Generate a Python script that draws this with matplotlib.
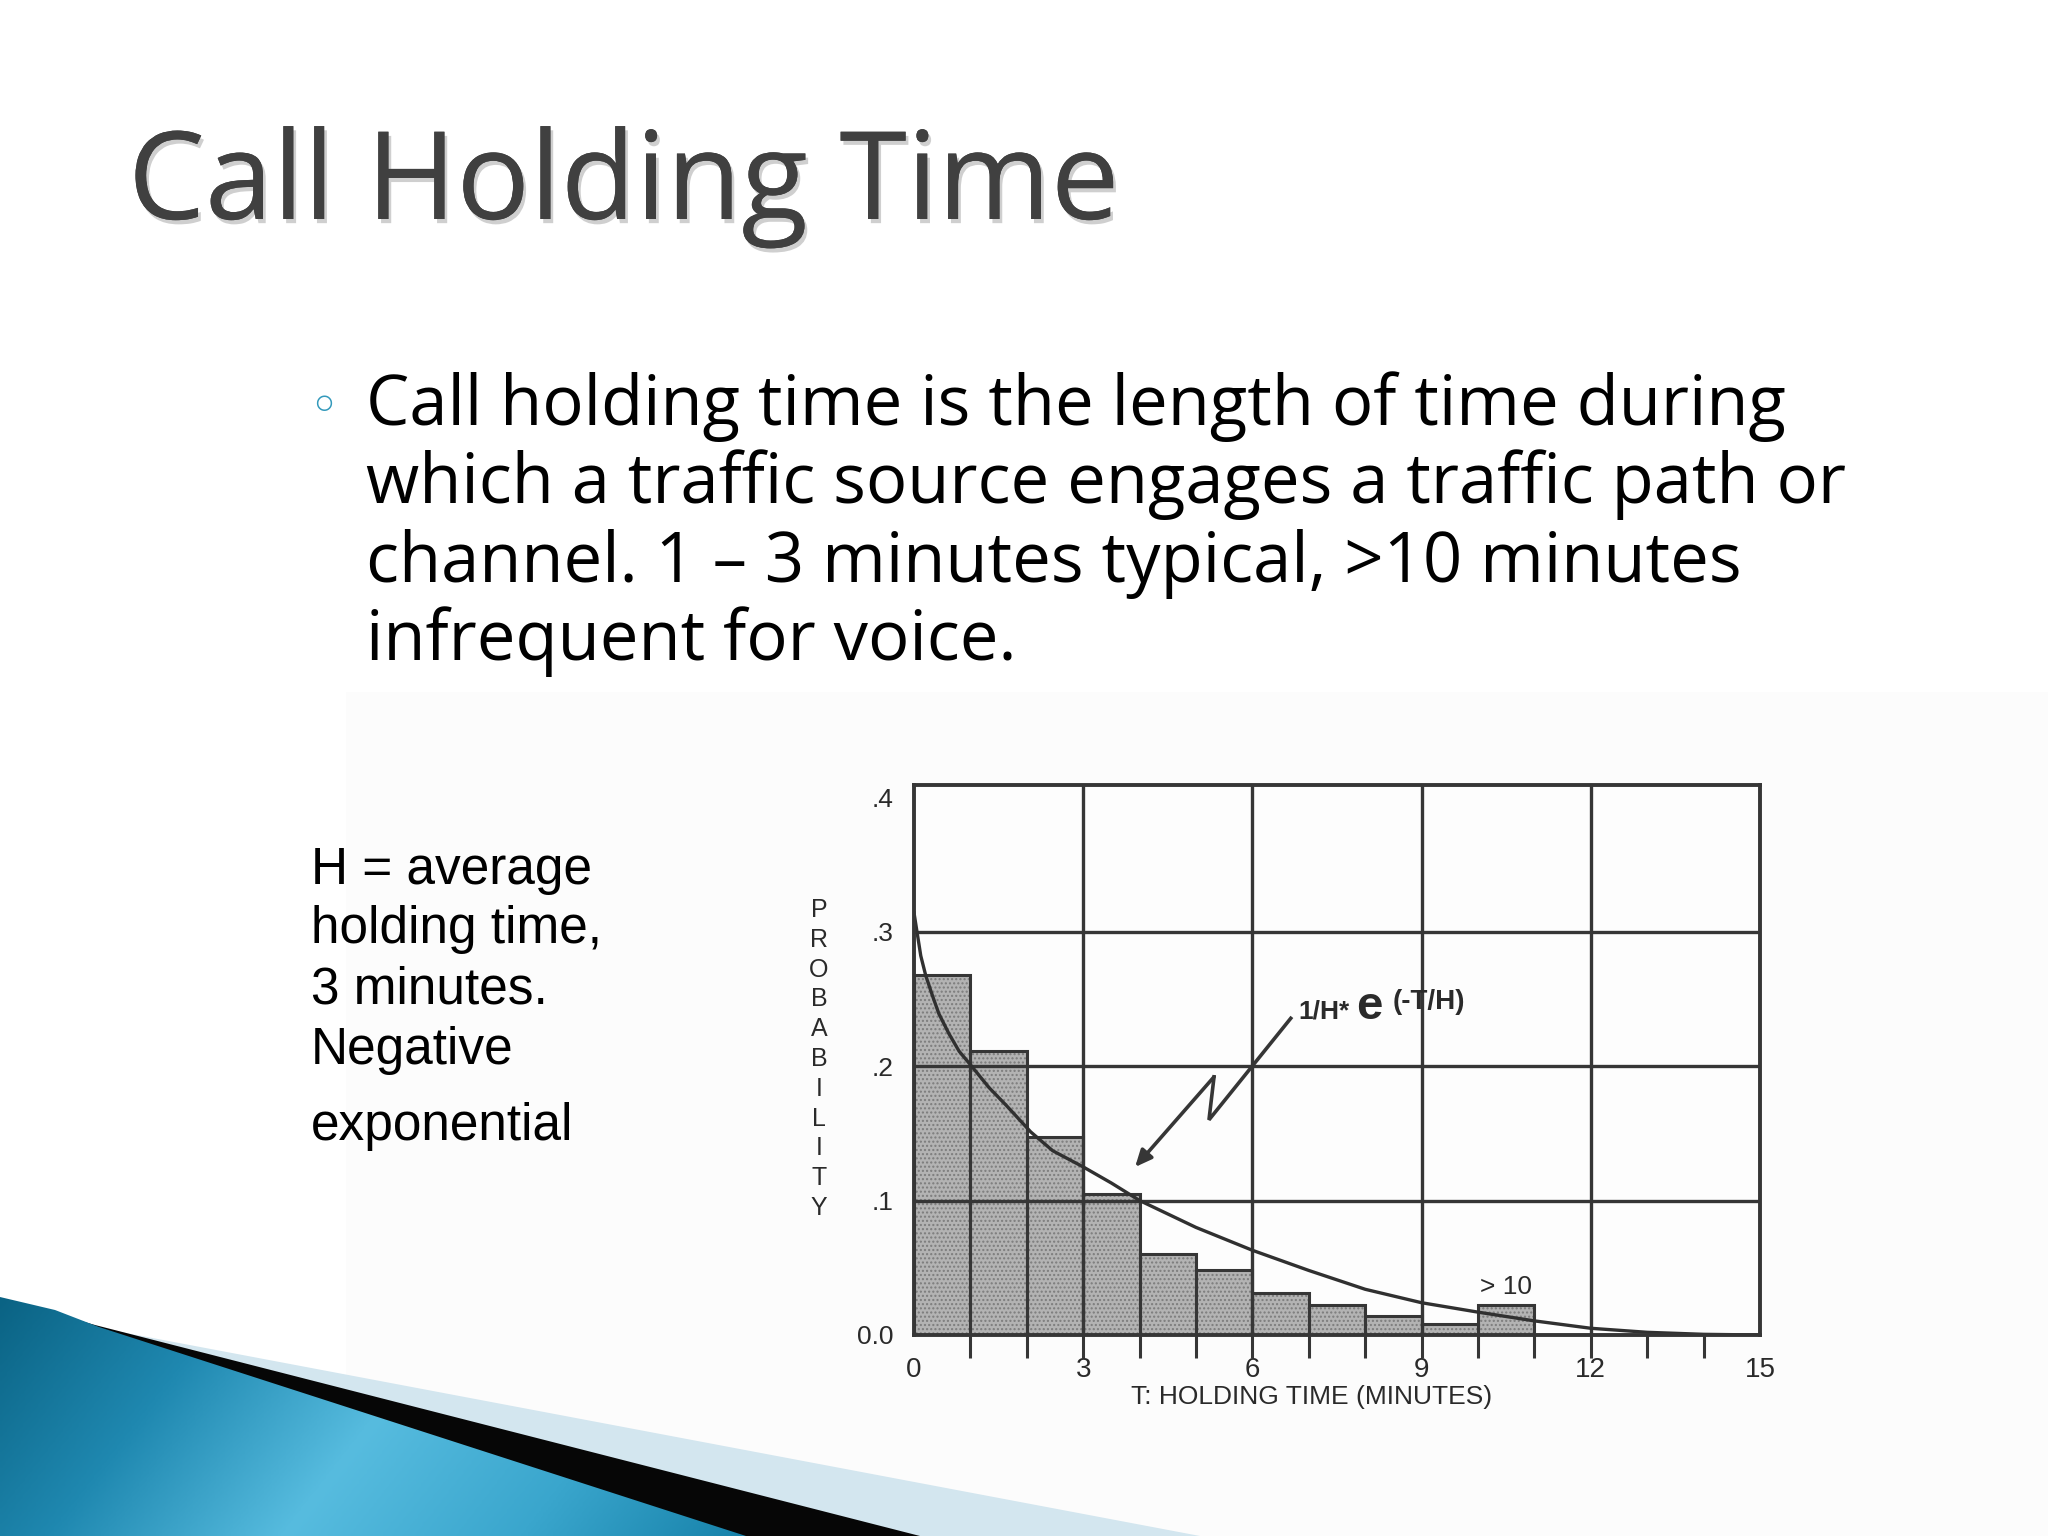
import numpy as np
import matplotlib
matplotlib.use("Agg")
from matplotlib import pyplot as plt
from matplotlib import patheffects
from matplotlib.patches import Polygon, Rectangle
from matplotlib.colors import LinearSegmentedColormap

# ---- chart data ----
bar_left = [0, 1, 2, 3, 4, 5, 6, 7, 8, 9, 10]
bar_prob = [0.268, 0.211, 0.147, 0.105, 0.060, 0.048, 0.031, 0.022,
            0.014, 0.008, 0.022]

curve_t = [0.0, 0.12, 0.21, 0.33, 0.44, 0.62, 0.80, 1.0, 1.33, 1.63, 2.07,
           2.46, 3.0, 3.5, 4.0, 5.0, 6.0, 7.0, 8.0, 9.0, 10.0, 11.0, 12.0,
           13.0, 14.0, 15.0]
curve_p = [0.314, 0.282, 0.267, 0.252, 0.239, 0.224, 0.211, 0.201, 0.184,
           0.171, 0.151, 0.137, 0.125, 0.113, 0.100, 0.080, 0.063, 0.048,
           0.034, 0.024, 0.017, 0.0105, 0.005, 0.002, 0.0005, 0.0]

x_ticks = [0, 3, 6, 9, 12, 15]
x_minor = [1, 2, 4, 5, 7, 8, 10, 11, 13, 14]
y_ticks = [0.0, 0.1, 0.2, 0.3, 0.4]
y_labels = ["0.0", ".1", ".2", ".3", ".4"]

title = "Call Holding Time"
bullet_lines = ["Call holding time is the length of time during",
                "which a traffic source engages a traffic path or",
                "channel. 1 \u2013 3 minutes typical, >10 minutes",
                "infrequent for voice."]
side_lines = ["H = average", "holding time,", "3 minutes.", "Negative",
              "exponential"]

W, H = 2048, 1536
NARROW = ["Liberation Sans Narrow", "Liberation Sans", "DejaVu Sans"]
INK = "#2a2a2a"
LINE = "#363636"

fig = plt.figure(figsize=(20.48, 15.36), dpi=100)
fig.patch.set_facecolor("white")

# ---- slide background: scanned area and blue swoosh ----
bg = fig.add_axes([0, 0, 1, 1], zorder=0)
bg.add_patch(Rectangle((346, 692), W - 346, H - 692, color="#fcfcfc", lw=0,
                       zorder=0.5))
bg.add_patch(Polygon([(105, 1329), (1200, 1536), (0, 1536), (0, 1300)],
                     closed=True, color="#d3e6ef", lw=0, zorder=1))
bg.add_patch(Polygon([(95, 1325), (920, 1536), (0, 1536), (0, 1298)],
                     closed=True, color="#060606", lw=0, zorder=2))
blue = Polygon([(0, 1297), (55, 1310), (99, 1327), (746, 1536), (0, 1536)],
               closed=True, facecolor="none", lw=0)
bg.add_patch(blue)
sw_cmap = LinearSegmentedColormap.from_list(
    "sw", ["#0a6283", "#1f88b0", "#57bcdf", "#3aa6cd", "#1580a8"])
gx, gy = np.meshgrid(np.linspace(0, 1, 300), np.linspace(0, 1, 100))
img = bg.imshow(gx * 0.8 + gy * 0.2, cmap=sw_cmap, extent=(0, 760, 1536, 1290),
                aspect="auto", interpolation="bilinear", zorder=3)
img.set_clip_path(blue)
bg.set_xlim(0, W)
bg.set_ylim(H, 0)
bg.axis("off")

# ---- slide texts ----
fig.text(128 / W, 1 - 219 / H, title, family="Open Sans", fontsize=88,
         color="#404040", va="baseline", ha="left",
         path_effects=[patheffects.withSimplePatchShadow(
             offset=(2, -3), shadow_rgbFace="#777777", alpha=0.35),
             patheffects.Normal()])

fig.text(324 / W, 1 - 408 / H, "\u25e6", family="DejaVu Sans", fontsize=38,
         color="#3399bb", ha="center", va="center")
for i, line in enumerate(bullet_lines):
    fig.text(366 / W, 1 - (425 + i * 78.5) / H, line, family="Open Sans",
             fontsize=49.5, color="black", va="baseline", ha="left")

side_base = [884, 943, 1003, 1064, 1140]
for line, yb in zip(side_lines, side_base):
    fig.text(311 / W, 1 - yb / H, line, family="Liberation Sans",
             fontsize=37, color="black", va="baseline", ha="left")

# ---- the chart ----
ax = fig.add_axes([914 / W, 1 - 1335 / H, 846 / W, 550 / H], zorder=2)
ax.set_facecolor("#fdfdfd")
ax.set_xlim(0, 15)
ax.set_ylim(0, 0.409)

ax.bar(bar_left, bar_prob, width=1, align="edge", color="#b3b3b3",
       edgecolor="#7c7c7c", linewidth=0, hatch="....", zorder=1)
ax.bar(bar_left, bar_prob, width=1, align="edge", fill=False,
       edgecolor=LINE, linewidth=2.2, zorder=1.5)

for xv in x_ticks[1:-1]:
    ax.axvline(xv, color=LINE, lw=2.4, zorder=2)
for yv in y_ticks[1:-1]:
    ax.axhline(yv, color=LINE, lw=2.4, zorder=2)

ax.plot(curve_t, curve_p, color="#303030", lw=2.4, zorder=3,
        solid_joinstyle="round")

for sp in ax.spines.values():
    sp.set_color(LINE)
    sp.set_linewidth(2.8)
    sp.set_zorder(4)

ax.set_xticks(x_ticks)
ax.set_xticklabels([str(v) for v in x_ticks], family=NARROW, fontsize=20,
                   color=INK)
ax.set_xticks(x_minor, minor=True)
ax.tick_params(axis="x", which="both", direction="out", length=16.5,
               width=2.2, color=LINE, pad=-1)
ticks = ax.xaxis.get_major_ticks()
ticks[0].tick1line.set_visible(False)
ticks[-1].tick1line.set_visible(False)

ax.set_yticks(y_ticks)
ax.set_yticklabels(y_labels, family=NARROW, fontsize=19, color=INK)
ax.tick_params(axis="y", length=0, pad=15)

ax.set_xlabel("T: HOLDING TIME (MINUTES)", family=NARROW, fontsize=19,
              color=INK, va="center")
ax.xaxis.set_label_coords(0.47, -0.113)

for i, ch in enumerate("PROBABILITY"):
    fig.text(819 / W, 1 - (910 + i * 29.8) / H, ch, family=NARROW,
             fontsize=18, color=INK, ha="center", va="center")

# formula callout with the zig-zag arrow
ax.text(6.82, 0.235, "1/H*", family=NARROW, fontsize=19, fontweight="bold",
        color=INK, va="baseline", ha="left", zorder=5)
ax.text(7.84, 0.235, "e", family=NARROW, fontsize=34, fontweight="bold",
        color=INK, va="baseline", ha="left", zorder=5)
ax.text(8.48, 0.2425, "(-T/H)", family=NARROW, fontsize=20, fontweight="bold",
        color=INK, va="baseline", ha="left", zorder=5)
ax.plot([6.68, 5.23, 5.32], [0.2355, 0.160, 0.192], color=LINE,
        lw=2.6, zorder=5, solid_joinstyle="miter")
ax.annotate("", xy=(3.92, 0.1249), xytext=(5.32, 0.192),
            arrowprops=dict(arrowstyle="-|>,head_length=1.0,head_width=0.45",
                            color=LINE, lw=2.6, shrinkA=0, shrinkB=0),
            zorder=5)

ax.text(10.5, 0.036, "> 10", family=NARROW, fontsize=19, color=INK,
        ha="center", va="center", zorder=5)

fig.savefig("out.png", dpi=100)
